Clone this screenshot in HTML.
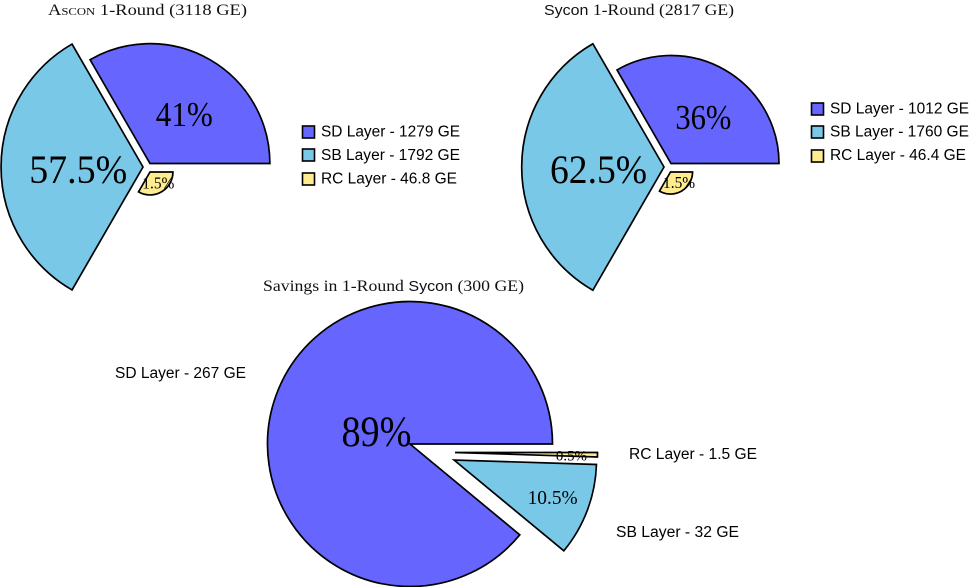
<!DOCTYPE html>
<html>
<head>
<meta charset="utf-8">
<title>GE breakdown pie charts</title>
<style>
html,body{margin:0;padding:0;background:#fff;}
svg{display:block;}
.title{font-family:"Liberation Serif",serif;font-size:16px;fill:#111;}
.sans{font-family:"Liberation Sans",sans-serif;font-size:14.5px;}
.legend{font-family:"Liberation Sans",sans-serif;font-size:15.5px;fill:#000;}
.pct{font-family:"Liberation Serif",serif;fill:#000;text-anchor:middle;}
.box{stroke:#000;stroke-width:1.6;}
</style>
</head>
<body>
<svg id="chart" xmlns="http://www.w3.org/2000/svg" width="969" height="587" viewBox="0 0 969 587">
  <text class="title" x="48" y="15" textLength="199" lengthAdjust="spacingAndGlyphs"><tspan style="font-variant:small-caps">Ascon</tspan> 1-Round (3118 GE)</text>
  <text class="title" x="544" y="15" textLength="190" lengthAdjust="spacingAndGlyphs"><tspan class="sans">Sycon</tspan> 1-Round (2817 GE)</text>
  <text class="title" x="263" y="291" textLength="261" lengthAdjust="spacingAndGlyphs">Savings in 1-Round <tspan class="sans">Sycon</tspan> (300 GE)</text>

  <g id="marks"></g>
  <g id="labels"></g>

  <g>
    <rect class="box" x="302.5" y="126" width="12" height="12" fill="#6666ff"/>
    <text class="legend" x="321" y="136.5" textLength="139" lengthAdjust="spacingAndGlyphs">SD Layer - 1279 GE</text>
    <rect class="box" x="302.5" y="149" width="12" height="12" fill="#7ac8e8"/>
    <text class="legend" x="321" y="160" textLength="139" lengthAdjust="spacingAndGlyphs">SB Layer - 1792 GE</text>
    <rect class="box" x="302.5" y="173" width="12" height="12" fill="#ffec8f"/>
    <text class="legend" x="321" y="183.5" textLength="136" lengthAdjust="spacingAndGlyphs">RC Layer - 46.8 GE</text>
  </g>

  <g>
    <rect class="box" x="811.5" y="103" width="12" height="12" fill="#6666ff"/>
    <text class="legend" x="830" y="113.5" textLength="139" lengthAdjust="spacingAndGlyphs">SD Layer - 1012 GE</text>
    <rect class="box" x="811.5" y="126" width="12" height="12" fill="#7ac8e8"/>
    <text class="legend" x="830" y="136.5" textLength="139" lengthAdjust="spacingAndGlyphs">SB Layer - 1760 GE</text>
    <rect class="box" x="811.5" y="150" width="12" height="12" fill="#ffec8f"/>
    <text class="legend" x="830" y="160" textLength="136" lengthAdjust="spacingAndGlyphs">RC Layer - 46.4 GE</text>
  </g>

  <text class="legend" x="115" y="378" textLength="131" lengthAdjust="spacingAndGlyphs">SD Layer - 267 GE</text>
  <text class="legend" x="629" y="459" textLength="128" lengthAdjust="spacingAndGlyphs">RC Layer - 1.5 GE</text>
  <text class="legend" x="616" y="537" textLength="123" lengthAdjust="spacingAndGlyphs">SB Layer - 32 GE</text>
</svg>

<script>
// Data (percent of total per layer: SD, SB, RC)
const layers = ['sd', 'sb', 'rc'];
const asconPercent = [41, 57.5, 1.5];
const syconPercent = [36, 62.5, 1.5];
const savingsPercent = [89, 10.5, 0.5];

// Layout only
const COLORS = {sd: '#6666ff', sb: '#7ac8e8', rc: '#ffec8f'};
const NS = 'http://www.w3.org/2000/svg';
const charts = [
  {
    id: 'ascon', values: asconPercent, mode: 'area', scale: 18.72,
    apex: [[150, 163.5], [143, 167], [150, 172]],
    labelFrac: [0.505, 0.46, 0.55], labelSize: [35, 40, 16.5], labelWidth: [57, 98, 32],
    labelNudge: [[4, 3.5], [0.5, 3], [2, 0]]
  },
  {
    id: 'sycon', values: syconPercent, mode: 'area', scale: 18,
    apex: [[671, 163.5], [664, 167], [670.5, 172]],
    labelFrac: [0.58, 0.46, 0.55], labelSize: [35, 40, 16.5], labelWidth: [56, 97, 32],
    labelNudge: [[1, 8], [0, 3], [2.5, 0]]
  },
  {
    id: 'savings', values: savingsPercent, mode: 'pie', radius: 142.5,
    apex: [[410, 444], [454, 460], [455, 452.5]],
    labelFrac: [0.25, 0.74, 0.81], labelSize: [43, 20, 15], labelWidth: [70, 50, 31],
    labelNudge: [[0, 0], [0, 0], [1, 1]]
  }
];

// Axis functions: value -> sweep angle and value -> radius
function sweepOf(chart, value, total) {
  return chart.mode === 'pie' ? value / total * 360 : 120;
}
function radiusOf(chart, value) {
  return chart.mode === 'pie' ? chart.radius : chart.scale * Math.sqrt(value);
}
function polar(apex, r, deg) {
  const a = deg * Math.PI / 180;
  return [apex[0] + r * Math.cos(a), apex[1] - r * Math.sin(a)];
}

const marks = document.getElementById('marks');
const labelLayer = document.getElementById('labels');

charts.forEach(function (chart) {
  const total = chart.values.reduce(function (s, v) { return s + v; }, 0);
  let start = 0;
  chart.values.forEach(function (value, i) {
    const sweep = sweepOf(chart, value, total);
    const end = start + sweep;
    const r = radiusOf(chart, value);
    const apex = chart.apex[i];
    const p0 = polar(apex, r, start);
    const p1 = polar(apex, r, end);
    const large = sweep > 180 ? 1 : 0;

    const slice = document.createElementNS(NS, 'path');
    slice.setAttribute('d', 'M' + apex[0] + ' ' + apex[1] +
      'L' + p0[0].toFixed(2) + ' ' + p0[1].toFixed(2) +
      'A' + r.toFixed(2) + ' ' + r.toFixed(2) + ' 0 ' + large + ' 0 ' +
      p1[0].toFixed(2) + ' ' + p1[1].toFixed(2) + 'Z');
    slice.setAttribute('fill', COLORS[layers[i]]);
    slice.setAttribute('stroke', '#000');
    slice.setAttribute('stroke-width', '1.7');
    slice.setAttribute('stroke-linejoin', 'miter');
    
    
    marks.appendChild(slice);

    const size = chart.labelSize[i];
    const nudge = chart.labelNudge[i];
    const c = polar(apex, r * chart.labelFrac[i], start + sweep / 2);
    const label = document.createElementNS(NS, 'text');
    label.setAttribute('class', 'pct');
    label.setAttribute('x', (c[0] + nudge[0]).toFixed(2));
    label.setAttribute('y', (c[1] + size * 0.33 + nudge[1]).toFixed(2));
    label.setAttribute('font-size', size);
    label.setAttribute('textLength', chart.labelWidth[i]);
    label.setAttribute('lengthAdjust', 'spacingAndGlyphs');
    
    
    label.textContent = value + '%';
    labelLayer.appendChild(label);

    start = end;
  });
});
</script>
</body>
</html>
